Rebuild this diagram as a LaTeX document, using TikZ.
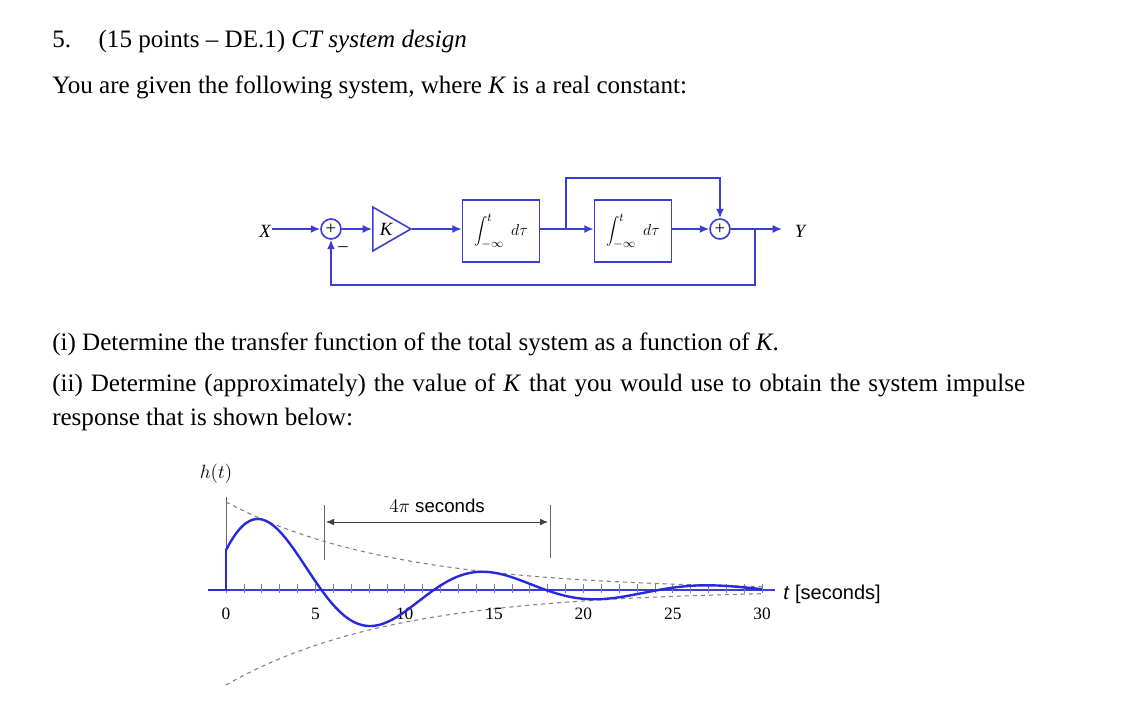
\documentclass[tikz,border=0pt]{standalone}
\usepackage{fontspec}
\setmainfont{Liberation Serif}
\setsansfont{Liberation Sans}
\usetikzlibrary{arrows.meta,shapes.geometric}
\definecolor{bd}{RGB}{60,60,215}
\definecolor{cv}{RGB}{40,40,220}
\begin{document}
\begin{tikzpicture}[x=0.75pt,y=-0.75pt,
  txt/.style={anchor=base west,inner sep=0pt,font=\fontsize{18.8}{25.5}\selectfont},
  sig/.style={bd,line width=1.2pt,-{Latex[length=7pt,width=6pt]}},
  wire/.style={bd,line width=1.2pt},
  sumnode/.style={circle,draw=bd,line width=1.2pt,minimum size=20*0.75pt,inner sep=0pt,font=\fontsize{14}{14}\selectfont},
  intbox/.style={draw=bd,line width=1.2pt,minimum width=77*0.75pt,minimum height=62*0.75pt,inner sep=0pt},
  bl/.style={font=\itshape\fontsize{14}{14}\selectfont,inner sep=1pt},
  tk/.style={black!60,line width=0.5pt},
  lab/.style={font=\fontsize{13}{14}\selectfont,inner sep=0pt}]
\useasboundingbox (0,0) rectangle (1139,704);
\fill[white] (0,0) rectangle (1139,704);
% text
\node[txt] (t1) at (52,47) {5.\hspace{1.1em}(15 points -- DE.1) \textit{CT system design}};
\node[txt] (t2) at (52,93) {You are given the following system, where \textit{K} is a real constant:};
\node[txt] (t3) at (52,350) {(i) Determine the transfer function of the total system as a function of \textit{K}.};
\node[txt,anchor=north west,text width=973*0.75pt,align=justify] (t4) at (52,374) {(ii) Determine (approximately) the value of \textit{K} that you would use to obtain the system impulse response that is shown below:};
% block diagram
\node[bl] (X) at (265,231) {X};
\node[sumnode] (s1) at (331,229) {+};
\node[font=\fontsize{14}{14}\selectfont] (m) at (343,249) {--};
\node[draw=bd,line width=1.2pt,isosceles triangle,isosceles triangle apex angle=60,minimum height=38*0.75pt,inner sep=0pt,anchor=west] (K) at (372,229) {};
\node[bl] at (386,229) {K};
\node[intbox] (i1) at (501,231) {};
\node[font=\fontsize{13}{14}\selectfont,inner sep=0pt] at (501,231) {$\displaystyle\int_{-\infty}^{t}\;d\tau$};
\node[intbox] (i2) at (633,231) {};
\node[font=\fontsize{13}{14}\selectfont,inner sep=0pt] at (633,231) {$\displaystyle\int_{-\infty}^{t}\;d\tau$};
\node[sumnode] (s2) at (720,229) {+};
\node[bl] (Y) at (800,231) {Y};
\coordinate (br1) at (566,229);
\coordinate (br2) at (755,229);
\coordinate (out) at (782,229);
\draw[sig] (X.east|-s1) -- (s1);
\draw[sig] (s1) -- (K.west);
\draw[sig] (K.apex) -- (i1.west|-K.apex);
\draw[wire] (i1.east|-br1) -- (br1);
\draw[sig] (br1) -- (i2.west|-br1);
\draw[sig] (i2.east|-s2) -- (s2);
\draw[sig] (br1) -- (566,178) -- (720,178) -- (s2);
\draw[sig] (s2) -- (out);
\draw[sig] (br2) -- (755,285) -- (331,285) -- (s1);
% plot
\def\xo{226}\def\sx{17.87}\def\yo{590}
\draw[tk] (226,497) -- (226,590);
\draw[tk] (324,505) -- (324,560);
\draw[tk] (550,505) -- (550,558);
\draw[black!75,line width=0.6pt,{Latex[length=6pt,width=5pt]}-{Latex[length=6pt,width=5pt]}] (326,522) -- (548,522);
\node[font=\sffamily\fontsize{14}{16}\selectfont,inner sep=0pt] (fp) at (437,506) {$4\pi$ seconds};
\node[lab,font=\fontsize{14}{16}\selectfont] (h) at (216,474) {$h(t)$};
\draw[gray,dashed,line width=0.8pt,domain=0:30,samples=60] plot ({\xo+\sx*\x},{\yo-88*exp(-0.108*\x)});
\draw[gray,dashed,line width=0.8pt,domain=0:30,samples=60] plot ({\xo+\sx*\x},{\yo+95*exp(-0.108*\x)});
\draw[bd,line width=1.2pt] (208,590) -- (775,590);
\foreach \i in {0,...,30} \draw[tk,black!50] ({\xo+\sx*\i},593) -- ({\xo+\sx*\i},584);
\foreach \i in {0,5,...,30} \node[lab] at ({\xo+\sx*\i},614) {\i};
\draw[cv,line width=1.8pt] (208,590) -- (226,590) -- (226,550);
\draw[cv,line width=1.8pt,domain=0:30,samples=200] plot ({\xo+\sx*\x},{\yo-88*exp(-0.108*\x)*sin(deg(0.5*\x+0.47))});
\node[anchor=west,inner sep=0pt,font=\sffamily\fontsize{15}{16}\selectfont] (tl) at (783,594) {\textit{t} [seconds]};
\end{tikzpicture}
\end{document}
